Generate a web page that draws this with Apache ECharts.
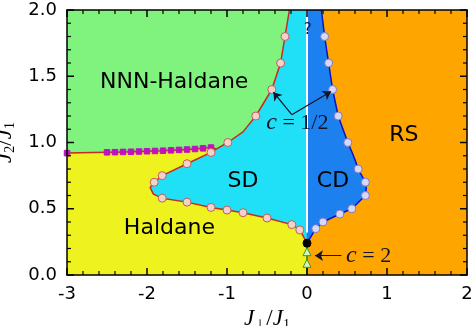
<!DOCTYPE html>
<html>
<head>
<meta charset="utf-8">
<script src="https://cdn.jsdelivr.net/npm/echarts@6/dist/echarts.min.js"></script>
<style>
  html, body { margin: 0; padding: 0; background: #fff; }
  #chart { width: 474px; height: 326px; }
</style>
</head>
<body>
<div id="chart"></div>
<script>
// Phase diagram of the frustrated spin ladder in the (J⊥/J1, J2/J1) plane.

// Axis ticks
const xTickLabels = ['-3', '-2', '-1', '0', '1', '2'];
const yTickLabels = ['0.0', '0.5', '1.0', '1.5', '2.0'];
const xMajorTicks = [-3, -2, -1, 0, 1, 2];
const xMinorTicks = [-2.8, -2.6, -2.4, -2.2, -1.8, -1.6, -1.4, -1.2, -0.8, -0.6, -0.4, -0.2,
  0.2, 0.4, 0.6, 0.8, 1.2, 1.4, 1.6, 1.8];
const yMajorTicks = [0, 0.5, 1.0, 1.5, 2.0];
const yMinorTicks = [0.1, 0.2, 0.3, 0.4, 0.6, 0.7, 0.8, 0.9, 1.1, 1.2, 1.3, 1.4, 1.6, 1.7, 1.8, 1.9];

// Point where the Haldane / NNN-Haldane line meets the SD boundary
const junction = [-1.13, 0.952];

// SD boundary, upper branch (NNN-Haldane | SD), from the top edge down to the junction
const sdUpperEdge = [[-0.22, 2.0], [-0.275, 1.8], [-0.33, 1.6], [-0.44, 1.4], [-0.64, 1.2],
  [-0.80, 1.08], [-0.99, 1.0], junction];

// SD boundary, lower lobe (Haldane | SD), from the junction round the tip to the cusp
const sdLowerEdge = [junction, [-1.2, 0.925], [-1.5, 0.84], [-1.81, 0.75], [-1.91, 0.70],
  [-1.96, 0.66], [-1.92, 0.61], [-1.81, 0.58], [-1.5, 0.55], [-1.2, 0.51], [-1.0, 0.49],
  [-0.8, 0.47], [-0.5, 0.43], [-0.19, 0.38], [-0.09, 0.34], [0, 0.24]];

// Computed points on the SD boundary
const sdPoints = [[-0.275, 1.8], [-0.33, 1.6], [-0.44, 1.4], [-0.64, 1.2], [-0.99, 1.0],
  [-1.2, 0.925], [-1.5, 0.84], [-1.81, 0.75], [-1.91, 0.70], [-1.81, 0.58], [-1.5, 0.55],
  [-1.2, 0.51], [-1.0, 0.49], [-0.8, 0.47], [-0.5, 0.43], [-0.19, 0.38], [-0.09, 0.34]];

// CD boundary (CD | RS), from the top edge down to the cusp
const cdEdge = [[0.18, 2.0], [0.22, 1.8], [0.27, 1.6], [0.32, 1.4], [0.39, 1.2], [0.51, 1.0],
  [0.56, 0.93], [0.60, 0.87], [0.64, 0.8], [0.73, 0.7], [0.74, 0.65], [0.73, 0.6], [0.56, 0.5],
  [0.41, 0.46], [0.2, 0.40], [0.11, 0.35], [0, 0.24]];

// Computed points on the CD boundary
const cdPoints = [[0.22, 1.8], [0.27, 1.6], [0.32, 1.4], [0.39, 1.2], [0.51, 1.0], [0.64, 0.8],
  [0.73, 0.7], [0.73, 0.6], [0.56, 0.5], [0.41, 0.46], [0.2, 0.40], [0.11, 0.35]];

// Haldane | NNN-Haldane transition line
const haldaneEdge = [[-3, 0.92], [-2.5, 0.926], [-2.4, 0.927], [-2.3, 0.929], [-2.2, 0.930],
  [-2.1, 0.932], [-2.0, 0.934], [-1.9, 0.936], [-1.8, 0.938], [-1.7, 0.941], [-1.6, 0.944],
  [-1.5, 0.947], [-1.4, 0.951], [-1.3, 0.956], [-1.2, 0.962], junction];

const haldanePoints = [[-3, 0.92], [-2.5, 0.926], [-2.4, 0.927], [-2.3, 0.929], [-2.2, 0.930],
  [-2.1, 0.932], [-2.0, 0.934], [-1.9, 0.936], [-1.8, 0.938], [-1.7, 0.941], [-1.6, 0.944],
  [-1.5, 0.947], [-1.4, 0.951], [-1.3, 0.956], [-1.2, 0.962]];

// c = 2 critical line along J⊥ = 0
const criticalEdge = [[0, 0], [0, 0.24]];
const criticalPoints = [[0, 0.088], [0, 0.176]];
const multicritical = [[0, 0.24]];

// SD | CD separation
const sdCdEdge = [[0, 0.32], [0, 2.0]];

// Plot frame corners
const xMin = -3, xMax = 2, yMin = 0, yMax = 2;

// Region names and where they are written
const regionNames = ['NNN-Haldane', 'Haldane', 'SD', 'CD', 'RS'];
const regionLabelPos = [[-1.66, 1.457], [-1.72, 0.355], [-0.8, 0.704], [0.325, 0.704], [1.21, 1.057]];

// Annotations
const halfLabelPos = [-0.12, 1.147];
const twoLabelPos = [0.77, 0.143];
const questionPos = [0.01, 1.85];
const halfArrows = [[[-0.19, 1.21], [-0.42, 1.38]], [[-0.19, 1.21], [0.30, 1.385]]];
const twoArrow = [[0.43, 0.146], [0.1, 0.146]];

// Region fills, assembled from the boundaries
const regionColors = {
  rs: '#ffa500', haldane: '#eef21e', nnn: '#80f27e', sd: '#1fe0f6', cd: '#1c80ef'
};
const rsPoly = [[xMin, yMin], [xMax, yMin], [xMax, yMax], [xMin, yMax]];
const haldanePoly = [[xMin, yMin], [0, yMin]].concat(sdLowerEdge.slice().reverse())
  .concat(haldaneEdge.slice().reverse());
const nnnPoly = [[xMin, yMax]].concat(sdUpperEdge).concat(haldaneEdge.slice().reverse());
const sdPoly = [[0, yMax]].concat(sdUpperEdge).concat(sdLowerEdge);
const cdPoly = [[0, 0.24], [0, yMax]].concat(cdEdge);

const polys = [
  { pts: rsPoly, color: regionColors.rs },
  { pts: haldanePoly, color: regionColors.haldane },
  { pts: nnnPoly, color: regionColors.nnn },
  { pts: sdPoly, color: regionColors.sd },
  { pts: cdPoly, color: regionColors.cd }
];

const mathFont = 'Liberation Serif';
const textFont = 'DejaVu Sans';

function fillSeries(poly) {
  return {
    type: 'custom', silent: true, z: 1, clip: true,
    data: [0],
    renderItem: function (params, api) {
      return {
        type: 'polygon',
        shape: { points: poly.pts.map(function (p) { return api.coord(p); }) },
        style: { fill: poly.color, stroke: poly.color, lineWidth: 0.5 }
      };
    }
  };
}

function edgeSeries(data, color, width, z) {
  return {
    type: 'line', data: data, showSymbol: false, symbol: 'none', silent: true, z: z,
    lineStyle: { color: color, width: width }
  };
}

function pointSeries(data, symbol, size, fill, stroke, z) {
  return {
    type: 'scatter', data: data, symbol: symbol, symbolSize: size, silent: true, z: z,
    itemStyle: { color: fill, borderColor: stroke, borderWidth: 1, opacity: 1 }
  };
}

const axisNameRich = {
  i: { fontFamily: mathFont, fontStyle: 'italic', fontSize: 23, color: '#000' },
  r: { fontFamily: mathFont, fontSize: 23, color: '#000' },
  s: { fontFamily: mathFont, fontSize: 14, color: '#000', padding: [12, 0, 0, 0] }
};

// Boxed frame; the inward ticks are drawn by the frameTicks series below
function frameAxis(position, range, step, labels) {
  const horizontal = position === 'bottom' || position === 'top';
  const ax = {
    type: 'value', min: range[0], max: range[1], interval: step, position: position, z: 20,
    axisLine: { show: true, onZero: false, lineStyle: { color: '#000', width: 1.5 } },
    axisTick: { show: false },
    splitLine: { show: false },
    axisLabel: { show: false }
  };
  if (labels) {
    ax.axisLabel = {
      show: true, fontSize: 18, color: '#000', fontFamily: textFont, margin: 10,
      showMinLabel: true, showMaxLabel: true,
      formatter: function (v) { return labels[Math.round((v - range[0]) / step)]; }
    };
    ax.nameLocation = 'middle';
    ax.nameTextStyle = { rich: axisNameRich };
    if (horizontal) {
      ax.name = '{i|J}{s|⊥}{r|/}{i|J}{s|1}';
      ax.nameGap = 28;
    } else {
      ax.name = '{i|J}{s|2}{r|/}{i|J}{s|1}';
      ax.nameGap = 42;
      ax.nameRotate = 90;
    }
  }
  return ax;
}

const chart = echarts.init(document.getElementById('chart'));

const series = polys.map(fillSeries);

series.push(edgeSeries(sdCdEdge, '#ffffff', 2, 2));
series.push(edgeSeries(criticalEdge, '#2a7a1a', 1.5, 3));
series.push(edgeSeries(haldaneEdge, '#c0301e', 1.5, 3));
series.push(edgeSeries(sdUpperEdge, '#cc2a1a', 1.5, 3));
series.push(edgeSeries(sdLowerEdge, '#cc2a1a', 1.5, 3));
series.push(edgeSeries(cdEdge, '#1010c8', 1.5, 3));
series.push(pointSeries(haldanePoints, 'rect', 5.5, '#c010c0', '#c010c0', 4));
series.push(pointSeries(sdPoints, 'circle', 8, '#f4d2cc', '#c0605a', 5));
series.push(pointSeries(cdPoints, 'circle', 8, '#d8d8f4', '#7a7ac8', 5));
series.push(pointSeries(criticalPoints, 'triangle', 8, '#d8f5c0', '#3a9a2a', 5));
series.push(pointSeries(multicritical, 'circle', 8, '#000000', '#000000', 6));

// Arrows pointing from the central-charge labels to the transitions
series.push({
  type: 'lines', coordinateSystem: 'cartesian2d', silent: true, z: 7,
  symbol: ['none', 'arrow'], symbolSize: 8,
  lineStyle: { color: '#141428', width: 1.2, opacity: 1 },
  data: halfArrows.concat([twoArrow]).map(function (c) { return { coords: c }; })
});

// Phase names
series.push({
  type: 'custom', silent: true, z: 8, clip: false,
  data: regionLabelPos,
  renderItem: function (params, api) {
    const p = api.coord([api.value(0), api.value(1)]);
    return {
      type: 'text', x: p[0], y: p[1],
      style: {
        text: regionNames[params.dataIndex], fill: '#000', fontSize: 22, fontFamily: textFont,
        align: 'center', verticalAlign: 'middle'
      }
    };
  }
});

// Central-charge labels
const annotations = [
  { pos: halfLabelPos, text: '{c|c} {r|= 1/2}' },
  { pos: twoLabelPos, text: '{c|c} {r|= 2}' }
];
series.push({
  type: 'custom', silent: true, z: 8, clip: false,
  data: annotations.map(function (a) { return a.pos; }),
  renderItem: function (params, api) {
    const p = api.coord([api.value(0), api.value(1)]);
    return {
      type: 'text', x: p[0], y: p[1],
      style: {
        text: annotations[params.dataIndex].text, align: 'center', verticalAlign: 'middle',
        fontSize: 22, fontFamily: mathFont, fill: '#141428',
        rich: {
          c: { fontFamily: mathFont, fontStyle: 'italic', fontSize: 24, fill: '#141428' },
          r: { fontFamily: mathFont, fontSize: 22, fill: '#141428' }
        }
      }
    };
  }
});

series.push({
  type: 'custom', silent: true, z: 8, clip: false,
  data: [questionPos],
  renderItem: function (params, api) {
    const p = api.coord([api.value(0), api.value(1)]);
    return {
      type: 'text', x: p[0], y: p[1],
      style: { text: '?', fill: '#14143a', fontSize: 15, fontFamily: textFont, align: 'center', verticalAlign: 'middle' }
    };
  }
});

// Inward ticks on all four sides of the frame
series.push({
  type: 'custom', silent: true, z: 30, clip: false,
  data: [0],
  renderItem: function (params, api) {
    const lines = [];
    function tick(x1, y1, x2, y2, w) {
      lines.push({ type: 'line', shape: { x1: x1, y1: y1, x2: x2, y2: y2 },
        style: { stroke: '#000', lineWidth: w } });
    }
    function xTicks(values, len, w) {
      values.forEach(function (v) {
        const b = api.coord([v, yMin]);
        const t = api.coord([v, yMax]);
        tick(b[0], b[1], b[0], b[1] - len, w);
        tick(t[0], t[1], t[0], t[1] + len, w);
      });
    }
    function yTicks(values, len, w) {
      values.forEach(function (v) {
        const l = api.coord([xMin, v]);
        const r = api.coord([xMax, v]);
        tick(l[0], l[1], l[0] + len, l[1], w);
        tick(r[0], r[1], r[0] - len, r[1], w);
      });
    }
    xTicks(xMajorTicks, 7, 1.5);
    xTicks(xMinorTicks, 4, 1.2);
    yTicks(yMajorTicks, 7, 1.5);
    yTicks(yMinorTicks, 4, 1.2);
    return { type: 'group', children: lines };
  }
});

chart.setOption({
  animation: false,
  grid: { left: 67, right: 7, top: 10, bottom: 51, outerBoundsMode: 'none' },
  xAxis: [
    frameAxis('bottom', [xMin, xMax], 1, xTickLabels),
    frameAxis('top', [xMin, xMax], 1, null)
  ],
  yAxis: [
    frameAxis('left', [yMin, yMax], 0.5, yTickLabels),
    frameAxis('right', [yMin, yMax], 0.5, null)
  ],
  series: series
});
</script>
</body>
</html>
